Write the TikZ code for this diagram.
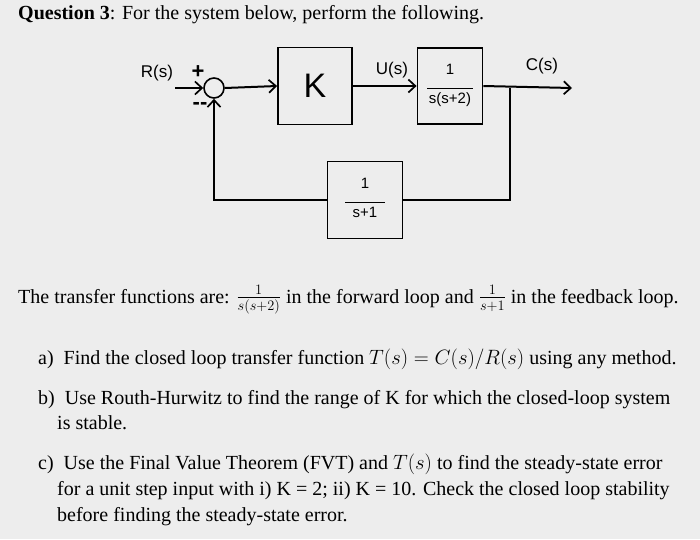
\documentclass[tikz,border=0pt]{standalone}
\usepackage{fontspec}
\usepackage{amsmath}
\setmainfont{Liberation Serif}
\newfontfamily\hand{Liberation Sans}
\usetikzlibrary{arrows.meta}
\begin{document}
\begin{tikzpicture}[x=1pt,y=-1pt,
  blk/.style={draw,line width=1.8pt,inner sep=0pt},
  wire/.style={line width=2pt},
  arr/.style={wire,-{Straight Barb[length=7pt,width=13pt,line width=1.7pt]}},
  txt/.style={anchor=base west,inner sep=0pt,font=\fontsize{20}{24}\selectfont},
  lbl/.style={font=\hand\fontsize{17}{19}\selectfont,inner sep=0pt}]
\fill[gray!14] (0,0) rectangle (700,539);
\useasboundingbox (0,0) rectangle (700,539);
\node[txt] (title) at (18,19) {\textbf{Question 3}: For the system below, perform the following.};
% diagram
\node[draw,circle,line width=1.6pt,minimum size=20pt,inner sep=0pt] (sum) at (214,88) {};
\node[blk,minimum width=74pt,minimum height=77pt] (K) at (315,86) {\hand\fontsize{34}{34}\selectfont K};
\node[blk,minimum width=65pt,minimum height=76pt] (G) at (450,86) {\hand\fontsize{15}{17}\selectfont\begin{tabular}{@{}c@{}}1\\[-3pt]\rule{46pt}{1.3pt}\\[-2pt]s(s+2)\end{tabular}};
\node[blk,minimum width=75pt,minimum height=77pt] (H) at (365,200) {\hand\fontsize{15}{17}\selectfont\begin{tabular}{@{}c@{}}1\\[-3pt]\rule{40pt}{1.3pt}\\[-2pt]s+1\end{tabular}};
\coordinate (rin) at (175,88);
\coordinate (cout) at (572,88);
\coordinate (br) at (510,88);
\coordinate (brd) at (510,200);
\coordinate (fbl) at (214,200);
\draw[arr] (rin) -- (sum.west);
\draw[arr] (sum.east) -- (K.west);
\draw[arr] (K.east) -- (G.west);
\draw[arr] (G.east) -- (cout);
\draw[wire] (br) -- (brd) -- (H.east);
\draw[arr] (H.west) -- (fbl) -- (sum.south);
\node[lbl] (R) at (157,73) {R(s)};
\node[lbl,font=\hand\fontsize{22}{22}\selectfont] (plus) at (198,72) {\textbf{+}};
\node[lbl,font=\hand\fontsize{22}{22}\selectfont] (minus) at (200,106) {\textbf{--}};
\node[lbl] (U) at (392,70) {U(s)};
\node[lbl] (C) at (542,66) {C(s)};
% text
\node[txt] (tf) at (18,303) {The transfer functions are: $\frac{1}{s(s+2)}$ in the forward loop and $\frac{1}{s+1}$ in the feedback loop.};
\node[txt] (a) at (38,364) {a)\ \ Find the closed loop transfer function $T(s)=C(s)/R(s)$ using any method.};
\node[txt] (b1) at (38,404) {b)\ \ Use Routh-Hurwitz to find the range of K for which the closed-loop system};
\node[txt] (b2) at (57,429) {is stable.};
\node[txt] (c1) at (38,469) {c)\ \ Use the Final Value Theorem (FVT) and $T(s)$ to find the steady-state error};
\node[txt] (c2) at (57,495) {for a unit step input with i) K = 2; ii) K = 10. Check the closed loop stability};
\node[txt] (c3) at (57,521) {before finding the steady-state error.};
\end{tikzpicture}
\end{document}
